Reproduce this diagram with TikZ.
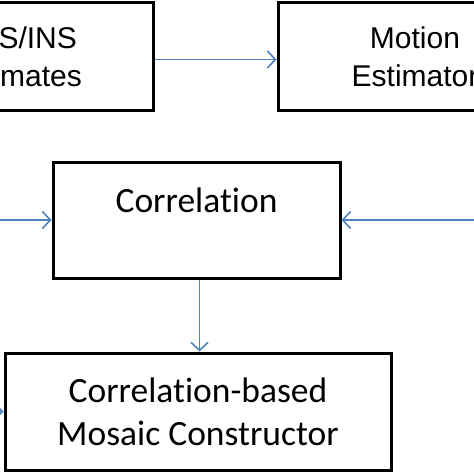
\documentclass[tikz,border=0pt]{standalone}
\usepackage{fontspec}
\usepackage{xcolor}
\usetikzlibrary{positioning, arrows.meta, calc}
\newfontfamily\arialfont{Liberation Sans}
\newfontfamily\calibrifont[Ligatures=NoCommon]{Carlito}
\definecolor{flowblue}{HTML}{4F81BD}

\begin{document}
\begin{tikzpicture}[x=1pt, y=-1pt]
	\tikzset{
		box/.style={rectangle, draw=black, line width=3pt, fill=white, inner sep=0pt, align=center},
		topbox/.style={box, minimum width=274pt, minimum height=108pt, font=\arialfont\fontsize{30}{38}\selectfont},
		flow/.style={-{Straight Barb[length=8pt, width=17pt]}, flowblue, line width=1.6pt},
		lbl/.style={font=\calibrifont\fontsize{35.5}{43}\selectfont, align=center, inner sep=0pt},
	}
	
	% Picture frame
	\useasboundingbox (0,0) rectangle (474,474);
	\clip (0,0) rectangle (474,474);
	
	% Top row
	\node[topbox] (gps) at (16,56.5) {GPS/INS\\Estimates};
	\node[topbox] (motion) at (415,56.5) {Motion\\Estimator};
	
	% Correlation
	\node[box, minimum width=287pt, minimum height=116pt] (corr) at (196.5,220) {};
	\node[lbl, anchor=base] (corrlbl) at (196.5,212) {Correlation};
	
	% Mosaic constructor
	\node[box, lbl, minimum width=386pt, minimum height=117pt] (cons) at (198,411.5) {Correlation-based\\Mosaic Constructor};
	
	% Free ends of incoming lines
	\coordinate (corrleft) at (-40,220);
	\coordinate (corrright) at (520,220);
	\coordinate (consleft) at (-40,411.5);
	
	% Connecting lines
	\draw[flow] ([yshift=-3pt]gps.east) -- ([yshift=-3pt]motion.west);
	\draw[flow] (corrleft) -- (corr.west);
	\draw[flow] (corrright) -- (corr.east);
	\draw[flow] ([xshift=3pt]corr.south) -- ([xshift=3pt]corr.south |- cons.north);
	\draw[flow] (consleft) -- (cons.west);
\end{tikzpicture}
\end{document}
